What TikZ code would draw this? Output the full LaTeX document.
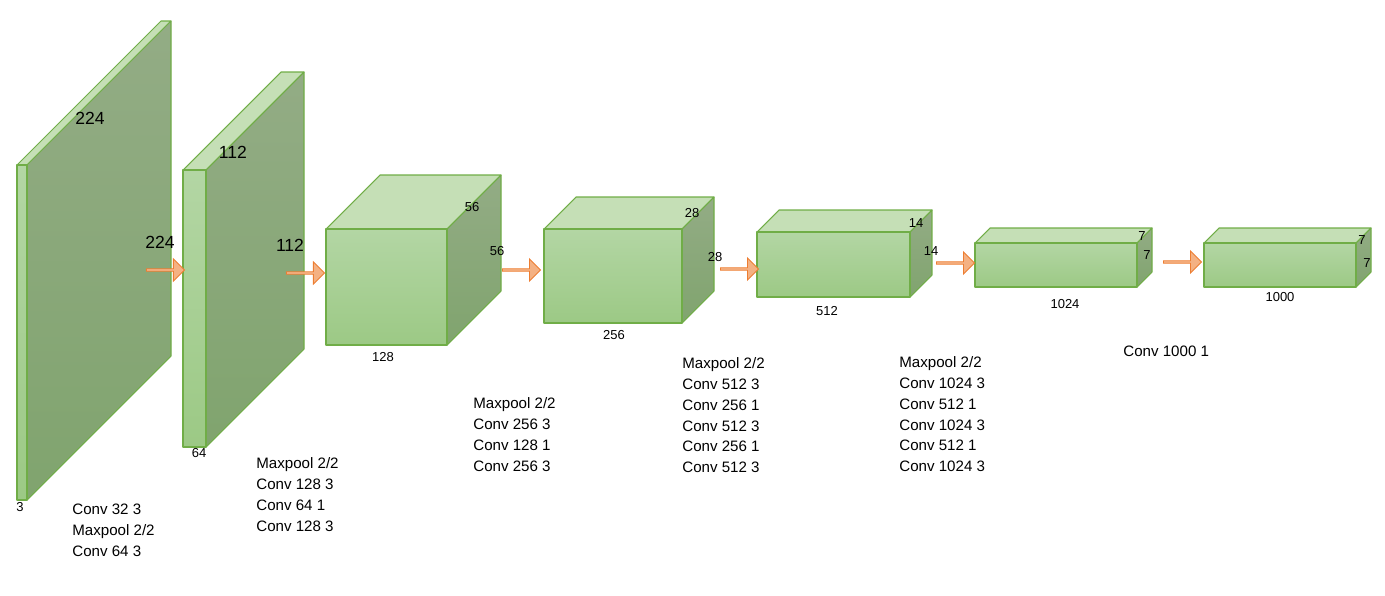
\documentclass[tikz,border=0pt]{standalone}
\usepackage{fontspec}
\setmainfont{Liberation Sans}
\usetikzlibrary{shapes.arrows}
\definecolor{edgegreen}{HTML}{70AD47}
\definecolor{frontA}{HTML}{B3D6A4}
\definecolor{frontB}{HTML}{9CC985}
\definecolor{topface}{HTML}{C5DFB6}
\definecolor{sideA}{HTML}{93AC85}
\definecolor{sideB}{HTML}{80A46E}
\definecolor{arrfill}{HTML}{F4B183}
\definecolor{arrdraw}{HTML}{ED7D31}
\tikzset{
  face/.style={draw=edgegreen, line width=0.6pt, line join=round},
  flow/.style={single arrow, draw=arrdraw, fill=arrfill, line width=0.5pt,
    minimum width=0.44cm, single arrow head extend=0.07cm, minimum height=0.76cm,
    inner sep=0pt, single arrow head indent=0pt},
  dim/.style={font=\fontsize{7.4pt}{8pt}\selectfont, inner sep=0pt},
  big/.style={font=\fontsize{10pt}{11pt}\selectfont, inner sep=0pt},
  ops/.style={font=\fontsize{8.6pt}{11.9pt}\selectfont, align=left, anchor=north west, inner sep=0pt}
}
\begin{document}
\begin{tikzpicture}[x=0.02cm,y=-0.02cm]
    \useasboundingbox (0,0) rectangle (1385,595);
    % cuboids: front left / top / right / bottom / depth
    \foreach \xa/\ya/\xb/\yb/\d in {17/165/27/500/144, 183/170/206/447/98,
        326/229/447/345/54, 544/229/682/323/32, 757/232/910/297/22,
        975/243/1137/287/15, 1204/243/1356/287/15} {
        \shade[face, top color=topface, bottom color=topface]
            (\xa,\ya) -- (\xa+\d,\ya-\d) -- (\xb+\d,\ya-\d) -- (\xb,\ya) -- cycle;
        \shade[face, top color=sideA, bottom color=sideB]
            (\xb,\ya) -- (\xb+\d,\ya-\d) -- (\xb+\d,\yb-\d) -- (\xb,\yb) -- cycle;
        \shade[face, top color=frontA, bottom color=frontB]
            (\xa,\ya) rectangle (\xb,\yb);
    }
    % arrows between layers
    \foreach \xs/\ys [count=\i] in {146/270, 286/273, 502/270, 720/269, 936/263, 1163/262}
        \node[flow, anchor=tail] (flow\i) at (\xs,\ys) {};
    % sizes
    \node[big] (w1) at (90,118) {224};
    \node[big] (h1) at (160,242) {224};
    \node[big] (w2) at (233,152) {112};
    \node[big] (h2) at (290,245) {112};
    \node[dim] (c1) at (20,507) {3};
    \node[dim] (c2) at (199,453) {64};
    \node[dim] (c3) at (383,357) {128};
    \node[dim] (w3) at (472,207) {56};
    \node[dim] (h3) at (497,251) {56};
    \node[dim] (c4) at (614,335) {256};
    \node[dim] (w4) at (692,213) {28};
    \node[dim] (h4) at (715,257) {28};
    \node[dim] (c5) at (827,311) {512};
    \node[dim] (w5) at (916,223) {14};
    \node[dim] (h5) at (931,251) {14};
    \node[dim] (c6) at (1065,304) {1024};
    \node[dim] (w6) at (1142,236) {7};
    \node[dim] (h6) at (1147,255) {7};
    \node[dim] (c7) at (1280,297) {1000};
    \node[dim] (w7) at (1362,240) {7};
    \node[dim] (h7) at (1367,263) {7};
    % operations
    \node[ops] (op1) at (72,504) {Conv 32 3\\Maxpool 2/2\\Conv 64 3};
    \node[ops] (op2) at (256,457) {Maxpool 2/2\\Conv 128 3\\Conv 64 1\\Conv 128 3};
    \node[ops] (op3) at (473,397) {Maxpool 2/2\\Conv 256 3\\Conv 128 1\\Conv 256 3};
    \node[ops] (op4) at (682,357) {Maxpool 2/2\\Conv 512 3\\Conv 256 1\\Conv 512 3\\Conv 256 1\\Conv 512 3};
    \node[ops] (op5) at (899,356) {Maxpool 2/2\\Conv 1024 3\\Conv 512 1\\Conv 1024 3\\Conv 512 1\\Conv 1024 3};
    \node[ops] (op6) at (1123,346) {Conv 1000 1};
\end{tikzpicture}
\end{document}
